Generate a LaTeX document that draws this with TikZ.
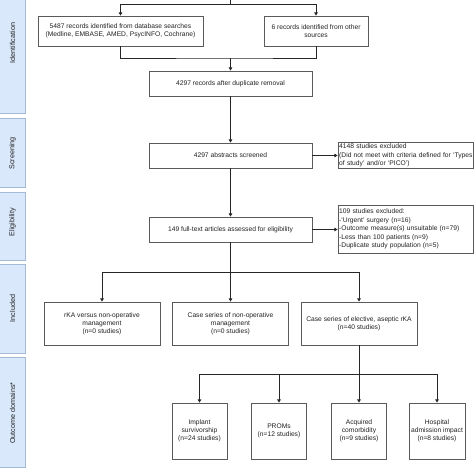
\documentclass[tikz,border=0pt]{standalone}
\usepackage{fontspec}
\setmainfont{Liberation Sans}
\usetikzlibrary{arrows.meta}
\definecolor{barfill}{HTML}{DAE8FC}
\definecolor{barline}{HTML}{A3B9D6}
\definecolor{boxline}{HTML}{5A5A5A}
\definecolor{txt}{HTML}{222222}
\tikzset{
  box/.style={draw=boxline, line width=0.8pt, fill=white, inner sep=1pt, align=center,
    font=\fontsize{6.7}{8.1}\selectfont, text=txt},
  exbox/.style={draw=boxline, line width=0.8pt, fill=white, inner sep=1.2pt, align=left,
    font=\fontsize{6.7}{8.6}\selectfont, text=txt},
  bar/.style={draw=barline, line width=0.7pt, fill=barfill},
  barlab/.style={rotate=90, font=\fontsize{7.2}{8}\selectfont, text=txt},
  conn/.style={draw=black!85, line width=0.8pt},
  arr/.style={conn, -{Triangle[width=3.6pt,length=3.2pt]}}
}
\begin{document}
\begin{tikzpicture}[x=1pt,y=-1pt]
\useasboundingbox (0,0) rectangle (474,474);
% side bars
\draw[bar] (-2,-5) rectangle (25,113);
\draw[bar] (-2,118) rectangle (25,187);
\draw[bar] (-2,192) rectangle (25,260);
\draw[bar] (-2,264) rectangle (25,353);
\draw[bar] (-2,357) rectangle (25,467);
\node[barlab] (lid) at (12.5,43) {Identification};
\node[barlab] (lsc) at (12.5,153.5) {Screening};
\node[barlab] (lel) at (12.5,222) {Eligibility};
\node[barlab] (lin) at (12.5,308.5) {Included};
\node[barlab] (lou) at (12.5,413) {Outcome domains*};
% boxes
\node[box, minimum width=165pt, minimum height=30pt] (b1) at (120.5,31)
  {5487 records identified from database searches\\(Medline, EMBASE, AMED, PsycINFO, Cochrane)};
\node[box, minimum width=104pt, minimum height=30pt] (b2) at (316,31)
  {6 records identified from other\\sources};
\node[box, minimum width=163pt, minimum height=25pt] (b3) at (230.5,83.5)
  {4297 records after duplicate removal};
\node[box, minimum width=163pt, minimum height=25pt] (b4) at (230.5,155.5)
  {4297 abstracts screened};
\node[exbox, minimum width=135pt, minimum height=25pt, text width=132.6pt] (ex1) at (405.5,155.5)
  {4148 studies excluded\\\mbox{(Did not meet with criteria defined for ‘Types}\\of study’ and/or ‘PICO’)};
\node[box, minimum width=163pt, minimum height=25pt] (b5) at (230.5,229.5)
  {149 full-text articles assessed for eligibility};
\node[exbox, minimum width=135pt, minimum height=48pt, text width=132.6pt] (ex2) at (405.5,229)
  {109 studies excluded:\\-‘Urgent’ surgery (n=16)\\-Outcome measure(s) unsuitable (n=79)\\-Less than 100 patients (n=9)\\-Duplicate study population (n=5)};
\node[box, minimum width=116pt, minimum height=43pt] (ia) at (102,323.5)
  {rKA versus non-operative\\management\\(n=0 studies)};
\node[box, minimum width=116pt, minimum height=43pt] (ib) at (230.5,323.5)
  {Case series of non-operative\\management\\(n=0 studies)};
\node[box, minimum width=116pt, minimum height=43pt] (ic) at (359,323.5)
  {Case series of elective, aseptic rKA\\(n=40 studies)};
\node[box, minimum width=55pt, minimum height=56pt] (o1) at (199.5,431)
  {Implant\\survivorship\\(n=24 studies)};
\node[box, minimum width=55pt, minimum height=56pt] (o2) at (279,431)
  {PROMs\\(n=12 studies)};
\node[box, minimum width=55pt, minimum height=56pt] (o3) at (359,431)
  {Acquired\\comorbidity\\(n=9 studies)};
\node[box, minimum width=56pt, minimum height=56pt] (o4) at (437,431)
  {Hospital\\admission impact\\(n=8 studies)};
% connectors
\coordinate (top) at (230.5,-1);
\coordinate (t1) at (230.5,4);
\draw[conn] (top) -- (t1);
\draw[arr] (t1) -| (b1.north);
\draw[arr] (t1) -| (b2.north);
\coordinate (j1) at (230.5,58);
\draw[conn] (b1.south) |- (j1) -| (b2.south);
\draw[arr] (j1) -- (b3.north);
\draw[arr] (b3.south) -- (b4.north);
\draw[arr] (b4.east) -- (ex1.west);
\draw[arr] (b4.south) -- (b5.north);
\draw[arr] (b5.east) -- (b5.east -| ex2.west);
\coordinate (j2) at (230.5,272);
\draw[conn] (b5.south) -- (j2);
\draw[arr] (j2) -| (ia.north);
\draw[arr] (j2) -- (ib.north);
\draw[arr] (j2) -| (ic.north);
\coordinate (j3) at (359,374);
\draw[conn] (ic.south) -- (j3);
\draw[arr] (j3) -| (o1.north);
\draw[arr] (j3) -| (o2.north);
\draw[arr] (j3) -- (o3.north);
\draw[arr] (j3) -| (o4.north);
\end{tikzpicture}
\end{document}
